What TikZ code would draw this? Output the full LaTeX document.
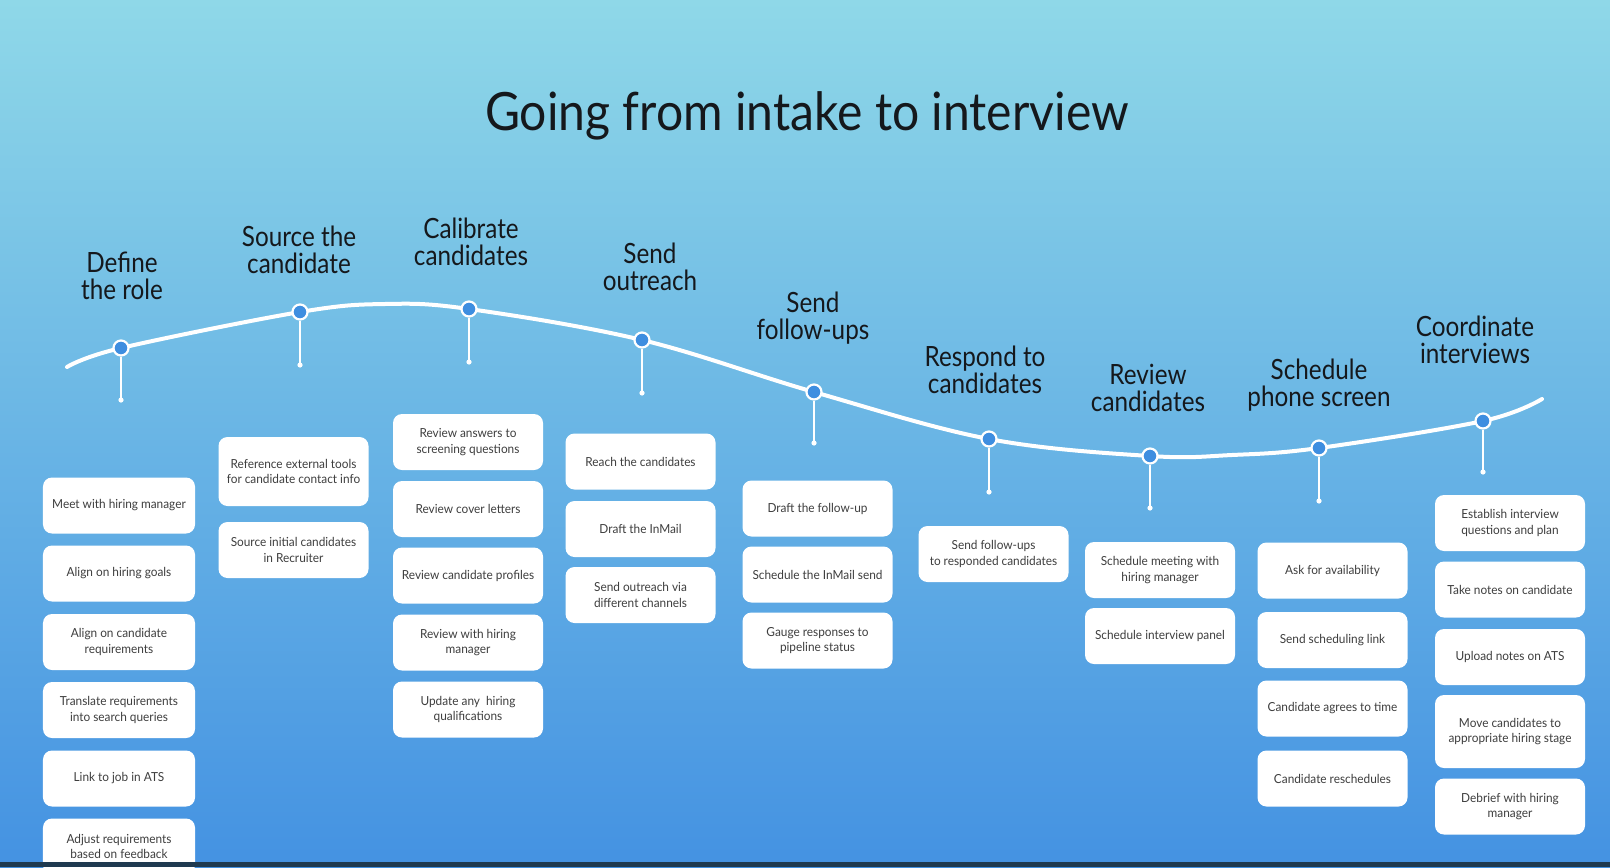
\documentclass[tikz,border=0pt]{standalone}
\usepackage{fontspec}
\setmainfont{Lato}[FakeStretch=0.95]
\newfontfamily\titlefont{Lato}[FakeStretch=0.91]
\newfontfamily\stagefont{Lato}[FakeStretch=0.87]
\definecolor{bgtop}{HTML}{8FD8E8}
\definecolor{bgmid}{HTML}{78C2EA}
\definecolor{bgbot}{HTML}{4492E2}
\definecolor{titlec}{HTML}{15181C}
\definecolor{cardtext}{HTML}{3E3E3E}
\definecolor{dotblue}{HTML}{3E8EE0}
\definecolor{barc}{HTML}{1F3A50}
\begin{document}
\begin{tikzpicture}[x=1bp,y=-1bp,
  stage/.style={font=\stagefont\fontsize{28}{27.5}\selectfont, text=titlec, align=center, inner sep=0pt},
  card/.style={fill=white, rounded corners=9bp, minimum width=150bp, minimum height=56bp, align=center, font=\fontsize{12.5}{15.5}\selectfont, text=cardtext, inner sep=2bp},
  dot/.style={circle, fill=dotblue, draw=white, line width=2.2bp, minimum size=15bp, inner sep=0pt},
  stem/.style={white, line width=1.8bp},
  curve/.style={white, line width=4bp, line cap=round}
]
\useasboundingbox (0,0) rectangle (1610,867);
\shade[top color=bgtop, middle color=bgmid, bottom color=bgbot] (0,0) rectangle (1610,867);

\node[font=\titlefont\fontsize{53}{60}\selectfont, text=titlec, inner sep=0pt] (title) at (807,116) {Going from intake to interview};

% timeline curve
\draw[curve] plot[smooth, tension=0.6] coordinates {(67,367) (121,348) (300,312) (385,304) (469,309) (642,340) (814,392) (989,439) (1150,456) (1232,455) (1319,448) (1483,421) (1542,399)};

% stem ends
\coordinate (e1) at (121,400);
\coordinate (e2) at (300,365);
\coordinate (e3) at (469,362);
\coordinate (e4) at (642,393);
\coordinate (e5) at (814,443);
\coordinate (e6) at (989,492);
\coordinate (e7) at (1150,508);
\coordinate (e8) at (1319,501);
\coordinate (e9) at (1483,472);

\node[dot] (d1) at (121,348) {};
\node[dot] (d2) at (300,312) {};
\node[dot] (d3) at (469,309) {};
\node[dot] (d4) at (642,340) {};
\node[dot] (d5) at (814,392) {};
\node[dot] (d6) at (989,439) {};
\node[dot] (d7) at (1150,456) {};
\node[dot] (d8) at (1319,448) {};
\node[dot] (d9) at (1483,421) {};

\foreach \i in {1,...,9}{
  \draw[stem] (d\i) -- (e\i);
  \fill[white] (e\i) circle (2.6);
}

% stage labels
\node[stage] (l1) at (122,276) {Define\\the role};
\node[stage] (l2) at (299,250) {Source the\\candidate};
\node[stage] (l3) at (471,242) {Calibrate\\candidates};
\node[stage] (l4) at (650,267) {Send\\outreach};
\node[stage] (l5) at (813,318) {Send\\follow-ups};
\node[stage] (l6) at (985,370) {Respond to\\candidates};
\node[stage] (l7) at (1148,388) {Review\\candidates};
\node[stage] (l8) at (1319,385) {Schedule\\phone screen};
\node[stage] (l9) at (1475,340) {Coordinate\\interviews};

% column 1
\node[card, minimum width=152bp] (c1a) at (119,505.5) {Meet with hiring manager};
\node[card, minimum width=152bp] (c1b) at (119,573.5) {Align on hiring goals};
\node[card, minimum width=152bp] (c1c) at (119,642) {Align on candidate\\requirements};
\node[card, minimum width=152bp] (c1d) at (119,710) {Translate requirements\\into search queries};
\node[card, minimum width=152bp] (c1e) at (119,778.5) {Link to job in ATS};
\node[card, minimum width=152bp] (c1f) at (119,846.5) {Adjust requirements\\based on feedback};

% column 2
\node[card, minimum height=69bp] (c2a) at (293.5,471.5) {Reference external tools\\for candidate contact info};
\node[card] (c2b) at (293.5,550) {Source initial candidates\\in Recruiter};

% column 3
\node[card] (c3a) at (468,442) {Review answers to\\screening questions};
\node[card] (c3b) at (468,509) {Review cover letters};
\node[card] (c3c) at (468,575.5) {Review candidate profiles};
\node[card] (c3d) at (468,642.5) {Review with hiring\\manager};
\node[card] (c3e) at (468,709.5) {Update any\ \ hiring\\qualifications};

% column 4
\node[card] (c4a) at (640.5,461.5) {Reach the candidates};
\node[card] (c4b) at (640.5,529) {Draft the InMail};
\node[card] (c4c) at (640.5,595) {Send outreach via\\different channels};

% column 5
\node[card] (c5a) at (817.5,508.5) {Draft the follow-up};
\node[card] (c5b) at (817.5,574.5) {Schedule the InMail send};
\node[card] (c5c) at (817.5,640.5) {Gauge responses to\\pipeline status};

% column 6
\node[card] (c6a) at (993.5,554) {Send follow-ups\\to responded candidates};

% column 7
\node[card] (c7a) at (1160,570) {Schedule meeting with\\hiring manager};
\node[card] (c7b) at (1160,636) {Schedule interview panel};

% column 8
\node[card] (c8a) at (1332.5,570.5) {Ask for availability};
\node[card] (c8b) at (1332.5,640) {Send scheduling link};
\node[card] (c8c) at (1332.5,708.5) {Candidate agrees to time};
\node[card] (c8d) at (1332.5,778.5) {Candidate reschedules};

% column 9
\node[card] (c9a) at (1510,523) {Establish interview\\questions and plan};
\node[card] (c9b) at (1510,589.5) {Take notes on candidate};
\node[card] (c9c) at (1510,657) {Upload notes on ATS};
\node[card, minimum height=73bp] (c9d) at (1510,731.5) {Move candidates to\\appropriate hiring stage};
\node[card] (c9e) at (1510,806.5) {Debrief with hiring\\manager};

\fill[barc] (0,862) rectangle (1610,867);
\end{tikzpicture}
\end{document}
